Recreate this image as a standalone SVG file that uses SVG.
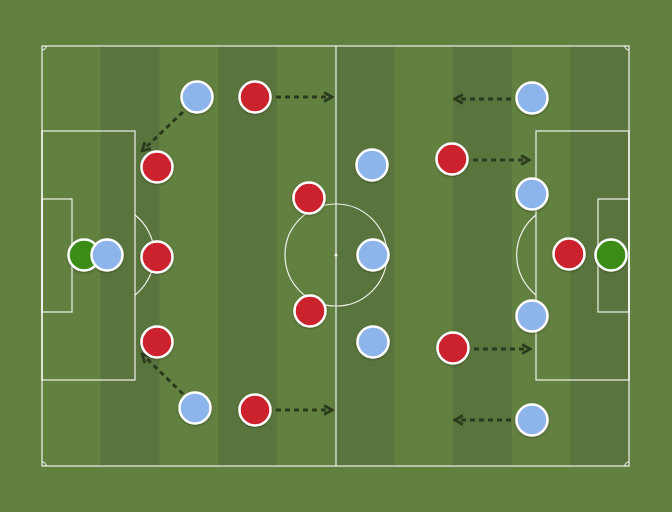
<svg xmlns="http://www.w3.org/2000/svg" width="672" height="512" viewBox="0 0 672 512">
<style>
.line{fill:none;stroke:#ffffff;stroke-width:1.2;stroke-opacity:0.9}
.dk{fill:#59753d}
.p{stroke:#ffffff;stroke-width:2.5}
.red{fill:#cb222e}
.blue{fill:#8db5ec}
.green{fill:#3a8c17}
.arr{fill:none;stroke:#2b3a1d;stroke-width:3;stroke-dasharray:5 4;marker-end:url(#ah)}
</style>
<defs>
<marker id="ah" viewBox="0 0 10 10" refX="7" refY="5" markerWidth="3.8" markerHeight="3.8" orient="auto" markerUnits="strokeWidth">
<path d="M1,1 L8,5 L1,9" fill="none" stroke="#2b3a1d" stroke-width="2.4"/>
</marker>
<filter id="sh" x="-30%" y="-30%" width="160%" height="160%">
<feDropShadow dx="0" dy="1" stdDeviation="1" flood-opacity="0.3"/>
</filter>
</defs>
<rect x="0" y="0" width="672" height="512" fill="#62803f"/>
<g id="pitch">
<rect class="dk" x="100.7" y="46" width="58.7" height="420"/>
<rect class="dk" x="218.1" y="46" width="58.7" height="420"/>
<rect class="dk" x="335.5" y="46" width="58.7" height="420"/>
<rect class="dk" x="452.9" y="46" width="58.7" height="420"/>
<rect class="dk" x="570.3" y="46" width="58.7" height="420"/>
<rect class="line" x="42" y="46" width="587" height="420"/>
<line class="line" x1="336" y1="46" x2="336" y2="466"/>
<circle class="line" cx="336" cy="255" r="51"/>
<circle cx="336" cy="255" r="1.5" fill="#ffffff"/>
<rect class="line" x="42" y="131" width="93" height="249"/>
<rect class="line" x="42" y="199" width="30" height="113"/>
<rect class="line" x="536" y="131" width="93" height="249"/>
<rect class="line" x="598" y="199" width="31" height="113"/>
<path class="line" d="M135,215 A51,51 0 0 1 135,295"/>
<path class="line" d="M536,215 A51,51 0 0 0 536,295"/>
<path class="line" d="M42,50 A4,4 0 0 0 46,46"/>
<path class="line" d="M625,46 A4,4 0 0 0 629,50"/>
<path class="line" d="M42,462 A4,4 0 0 1 46,466"/>
<path class="line" d="M625,466 A4,4 0 0 1 629,462"/>
</g>
<g id="connectors">
<line class="arr" x1="276" y1="97" x2="331" y2="97"/>
<line class="arr" x1="183" y1="112" x2="143" y2="150"/>
<line class="arr" x1="183" y1="394" x2="143" y2="355"/>
<line class="arr" x1="276" y1="410" x2="331" y2="410"/>
<line class="arr" x1="511" y1="99" x2="456" y2="99"/>
<line class="arr" x1="473" y1="160" x2="528" y2="160"/>
<line class="arr" x1="474" y1="349" x2="529" y2="349"/>
<line class="arr" x1="511" y1="420" x2="456" y2="420"/>
</g>
<g id="players" filter="url(#sh)">
<circle id="g1" class="p green" cx="84" cy="255" r="15.5"/>
<circle id="b1" class="p blue" cx="107" cy="255" r="15.5"/>
<circle id="b2" class="p blue" cx="197" cy="97" r="15.5"/>
<circle id="r1" class="p red" cx="255" cy="97" r="15.5"/>
<circle id="r2" class="p red" cx="157" cy="167" r="15.5"/>
<circle id="r3" class="p red" cx="157" cy="257" r="15.5"/>
<circle id="r4" class="p red" cx="157" cy="342" r="15.5"/>
<circle id="b3" class="p blue" cx="195" cy="408" r="15.5"/>
<circle id="r5" class="p red" cx="255" cy="410" r="15.5"/>
<circle id="r6" class="p red" cx="309" cy="198" r="15.5"/>
<circle id="r7" class="p red" cx="310" cy="311" r="15.5"/>
<circle id="b4" class="p blue" cx="372" cy="165" r="15.5"/>
<circle id="b5" class="p blue" cx="373" cy="255" r="15.5"/>
<circle id="b6" class="p blue" cx="373" cy="342" r="15.5"/>
<circle id="r8" class="p red" cx="452" cy="159" r="15.5"/>
<circle id="r9" class="p red" cx="453" cy="348" r="15.5"/>
<circle id="b7" class="p blue" cx="532" cy="98" r="15.5"/>
<circle id="b8" class="p blue" cx="532" cy="194" r="15.5"/>
<circle id="b9" class="p blue" cx="532" cy="316" r="15.5"/>
<circle id="b10" class="p blue" cx="532" cy="420" r="15.5"/>
<circle id="r10" class="p red" cx="569" cy="254" r="15.5"/>
<circle id="g2" class="p green" cx="611" cy="255" r="15.5"/>
</g>
</svg>
